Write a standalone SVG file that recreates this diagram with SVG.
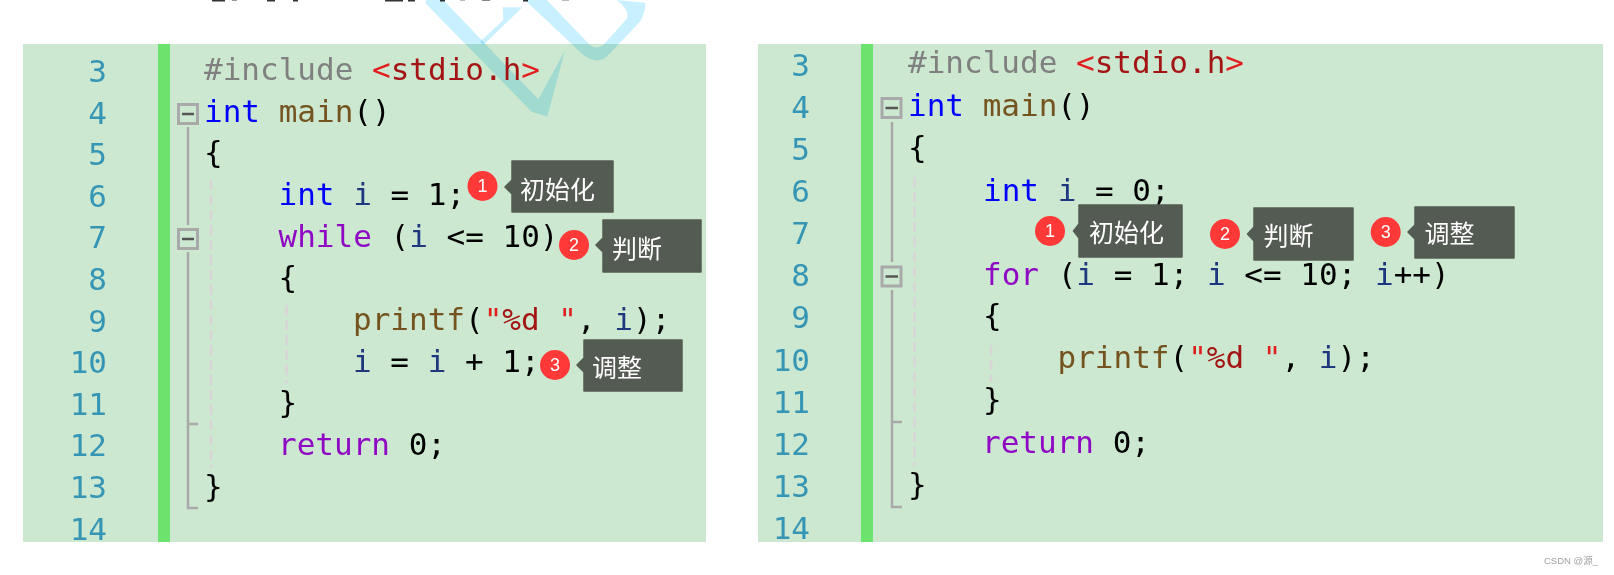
<svg xmlns="http://www.w3.org/2000/svg" width="1614" height="575" viewBox="0 0 1614 575">
<style>
.c{font-family:"DejaVu Sans Mono","Liberation Mono",monospace;font-size:31px;white-space:pre;fill:#000}
.n{font-family:"DejaVu Sans Mono","Liberation Mono",monospace;font-size:31px;fill:#3595b4;text-anchor:end}
.k{fill:#0000ff}.p{fill:#8f08c4}.f{fill:#74531f}.v{fill:#1f377f}.s{fill:#a31515}.r{fill:#e21f1f}.g{fill:#808080}
.t{font-family:"Noto Sans CJK SC","Noto Sans",sans-serif;font-size:25px;fill:#fff}
.b{font-family:"Liberation Sans",sans-serif;font-size:18px;fill:#fff;text-anchor:middle}
.tip{fill:#545b52;stroke:#545b52;stroke-width:1.5;stroke-linejoin:round}.dot{fill:#ff3838}
.fb{fill:none;stroke:#a9a9a9;stroke-width:3}.fm{stroke:#555;stroke-width:2.5}
.fl{fill:none;stroke:#a9a9a9;stroke-width:2.5}.dl{fill:none;stroke:#d9d4d6;stroke-width:2.5;stroke-dasharray:10 5}
.wm{fill:#c9f0ff;mix-blend-mode:multiply}
.w{font-family:"Liberation Sans","Noto Sans CJK SC",sans-serif;font-size:9.500px;fill:#a0a0a0;text-anchor:end}
</style>
<rect width="1614" height="575" fill="#fff"/>
<g id="panel-left">
<rect x="23" y="44" width="683" height="498" fill="#cde8d0"/>
<rect x="158" y="44" width="12" height="498" fill="#6ce36c"/>
</g>
<g id="panel-right">
<rect x="758" y="44" width="845" height="498" fill="#cde8d0"/>
<rect x="861" y="44" width="12" height="498" fill="#6ce36c"/>
</g>
<g id="cut-off-heading" fill="#333">
<rect x="212" y="0" width="13" height="1.500"/><rect x="232" y="0" width="5" height="1" fill="#999"/><rect x="267" y="0" width="8" height="1.500"/><rect x="293" y="0" width="5" height="1.500"/><rect x="385" y="0" width="18" height="1.500"/><rect x="408" y="0" width="7" height="1.500"/><rect x="440" y="0" width="5" height="1.500"/><rect x="460" y="0" width="5" height="1" fill="#bbb"/><rect x="482" y="0" width="8" height="1" fill="#888"/><rect x="523" y="0" width="5" height="1.500"/><rect x="562" y="0" width="7" height="1" fill="#bbb"/>
</g>
<g id="watermark" transform="translate(150 0) scale(.3333)">
<path class="wm" d="M825 8L1145 335L1192 350L1245 152L1165 298L880 0H830Z"/>
<path class="wm" d="M1058 22H1117L1000 135L990 125L1060 60Z"/>
<path class="wm" d="M1125 0L1300 165Q1340 195 1370 170L1470 65Q1490 30 1485 8L1400 0Q1440 30 1432 55L1360 135Q1340 150 1320 135L1190 0Z"/>
</g>
<g id="code-left">
<text class="n" x="107" y="82">3</text><text class="n" x="107" y="124">4</text><text class="n" x="107" y="165">5</text><text class="n" x="107" y="207">6</text><text class="n" x="107" y="248">7</text><text class="n" x="107" y="290">8</text><text class="n" x="107" y="332">9</text><text class="n" x="107" y="373">10</text><text class="n" x="107" y="415">11</text><text class="n" x="107" y="456">12</text><text class="n" x="107" y="498">13</text><text class="n" x="107" y="540">14</text>
<text class="c" x="204" y="79.5"><tspan class="g">#include</tspan> <tspan class="r">&lt;</tspan><tspan class="s">stdio.h</tspan><tspan class="r">&gt;</tspan></text>
<text class="c" x="204" y="121.5"><tspan class="k">int</tspan> <tspan class="f">main</tspan>()</text>
<text class="c" x="204" y="163">{</text>
<text class="c" x="278.500" y="205"><tspan class="k">int</tspan> <tspan class="v">i</tspan> = 1;</text>
<text class="c" x="278.500" y="247"><tspan class="p">while</tspan> (<tspan class="v">i</tspan> &lt;= 10)</text>
<text class="c" x="278.500" y="288">{</text>
<text class="c" x="353" y="330"><tspan class="f">printf</tspan>(<tspan class="r">"</tspan><tspan class="s">%d </tspan><tspan class="r">"</tspan>, <tspan class="v">i</tspan>);</text>
<text class="c" x="353" y="372"><tspan class="v">i</tspan> = <tspan class="v">i</tspan> + 1;</text>
<text class="c" x="278.500" y="413">}</text>
<text class="c" x="278" y="455"><tspan class="p">return</tspan> 0;</text>
<text class="c" x="204" y="497">}</text>
</g>
<g id="code-right">
<text class="n" x="810" y="76">3</text><text class="n" x="810" y="118">4</text><text class="n" x="810" y="160">5</text><text class="n" x="810" y="202">6</text><text class="n" x="810" y="244">7</text><text class="n" x="810" y="286">8</text><text class="n" x="810" y="328">9</text><text class="n" x="810" y="371">10</text><text class="n" x="810" y="413">11</text><text class="n" x="810" y="455">12</text><text class="n" x="810" y="497">13</text><text class="n" x="810" y="539">14</text>
<text class="c" x="908" y="73"><tspan class="g">#include</tspan> <tspan class="r">&lt;</tspan><tspan class="s">stdio.h</tspan><tspan class="r">&gt;</tspan></text>
<text class="c" x="908" y="116"><tspan class="k">int</tspan> <tspan class="f">main</tspan>()</text>
<text class="c" x="908" y="158">{</text>
<text class="c" x="983" y="200.500"><tspan class="k">int</tspan> <tspan class="v">i</tspan> = 0;</text>
<text class="c" x="983" y="285"><tspan class="p">for</tspan> (<tspan class="v">i</tspan> = 1; <tspan class="v">i</tspan> &lt;= 10; <tspan class="v">i</tspan>++)</text>
<text class="c" x="983" y="326">{</text>
<text class="c" x="1057.500" y="368"><tspan class="f">printf</tspan>(<tspan class="r">"</tspan><tspan class="s">%d </tspan><tspan class="r">"</tspan>, <tspan class="v">i</tspan>);</text>
<text class="c" x="983" y="410">}</text>
<text class="c" x="982" y="452.500"><tspan class="p">return</tspan> 0;</text>
<text class="c" x="908" y="495">}</text>
</g>
<g id="fold-left">
<rect class="fb" x="178.500" y="104.500" width="19" height="19"/><path class="fm" d="M182 114H194"/>
<rect class="fb" x="178.500" y="229.500" width="19" height="19"/><path class="fm" d="M182 239H194"/>
<path class="fl" d="M188 127V225M188 252V508H198M188 424H198"/>
<path class="dl" d="M211 180V468M286.500 305V383"/>
</g>
<g id="fold-right">
<rect class="fb" x="882" y="98.500" width="19" height="19"/><path class="fm" d="M885.500 108H898"/>
<rect class="fb" x="882" y="267" width="19" height="19"/><path class="fm" d="M885.500 276.500H898"/>
<path class="fl" d="M892 122V262M892 290V507H902M892 422H902"/>
<path class="dl" d="M914.500 177V466M991 345V382"/>
</g>
<g id="note-1-left"><circle class="dot" cx="482.500" cy="186" r="15"/><text class="b" x="482.500" y="192">1</text><path class="tip" d="M505 187L512 180V161H613V212H512V194Z"/><text class="t" x="520" y="199">初始化</text></g>
<g id="note-2-left"><circle class="dot" cx="574" cy="245" r="15"/><text class="b" x="574" y="251">2</text><path class="tip" d="M596 245L603 238V220H701V272H603V252Z"/><text class="t" x="612" y="258">判断</text></g>
<g id="note-3-left"><circle class="dot" cx="555" cy="365" r="15"/><text class="b" x="555" y="371">3</text><path class="tip" d="M577 365L584 358V340H682V391H584V372Z"/><text class="t" x="592" y="377">调整</text></g>
<g id="note-1-right"><circle class="dot" cx="1050" cy="231" r="15"/><text class="b" x="1050" y="237">1</text><path class="tip" d="M1073.500 231L1079 224V205H1182V257H1079V238Z"/><text class="t" x="1089" y="242">初始化</text></g>
<g id="note-2-right"><circle class="dot" cx="1225" cy="234" r="15"/><text class="b" x="1225" y="240">2</text><path class="tip" d="M1247.500 234L1254 227V208H1353V260H1254V241Z"/><text class="t" x="1263.500" y="245">判断</text></g>
<g id="note-3-right"><circle class="dot" cx="1385.700" cy="232" r="15"/><text class="b" x="1385.700" y="238">3</text><path class="tip" d="M1408 232L1415 225V207H1514V258H1415V239Z"/><text class="t" x="1424.400" y="243">调整</text></g>
<text id="credit" class="w" x="1598" y="564">CSDN @源_</text>
</svg>
